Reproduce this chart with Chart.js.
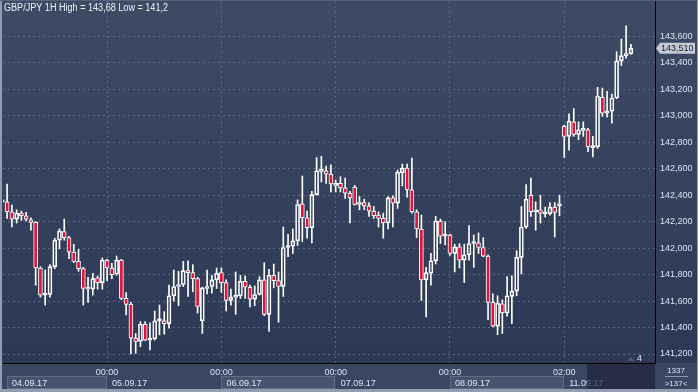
<!DOCTYPE html>
<html>
<head>
<meta charset="utf-8">
<script src="https://cdn.jsdelivr.net/npm/chart.js@4.4.1/dist/chart.umd.min.js"></script>
<style>
  html, body { margin: 0; padding: 0; background: #3a4660; }
  canvas { display: block; }
</style>
</head>
<body>
<canvas id="chart" width="698" height="392"></canvas>
<script>
// GBP/JPY hourly candles, first slot is the clipped one at the left edge
var firstSlot = -1;

var opens = [
  142.35, 142.35, 142.275, 142.22, 142.265, 142.245, 142.215, 142.195, 141.85, 141.645,
  141.65, 141.86, 142.06, 142.125, 142.08, 141.97, 141.9, 141.845, 141.7, 141.69,
  141.775, 141.74, 141.91, 141.85, 141.805, 141.91, 141.62, 141.575, 141.32, 141.295,
  141.425, 141.305, 141.315, 141.45, 141.45, 141.43, 141.64, 141.71, 141.725, 141.83,
  141.815, 141.77, 141.45, 141.695, 141.71, 141.76, 141.815, 141.74, 141.605, 141.63,
  141.64, 141.75, 141.705, 141.615, 141.65, 141.76, 141.5, 141.795, 141.755, 141.71,
  142.005, 142.015, 142.055, 142.335, 142.23, 142.155, 142.405, 142.58, 142.585, 142.56,
  142.475, 142.49, 142.455, 142.415, 142.46, 142.33, 142.345, 142.32, 142.28, 142.25,
  142.225, 142.19, 142.38, 142.34, 142.57, 142.605, 142.44, 142.275, 142.145, 141.76,
  141.81, 141.905, 142.205, 142.09, 142.1, 141.96, 142.01, 141.91, 141.95, 142.035,
  142.04, 142.005, 141.94, 141.59, 141.41, 141.58, 141.51, 141.635, 141.675, 141.93,
  142.16, 142.40, 142.275, 142.29, 142.26, 142.26, 142.31, 142.32, 142.92, 142.845,
  142.955, 142.86, 142.89, 142.895, 142.76, 142.765, 143.14, 143.02, 143.035, 143.135,
  143.415, 143.455, 143.47
];
var highs = [
  142.36, 142.485, 142.325, 142.29, 142.28, 142.27, 142.23, 142.2, 141.86, 141.835,
  141.875, 142.075, 142.145, 142.22, 142.09, 142.03, 141.99, 141.855, 141.78, 141.81,
  141.79, 141.925, 141.915, 141.885, 141.94, 141.915, 141.665, 141.59, 141.355, 141.445,
  141.445, 141.435, 141.525, 141.57, 141.52, 141.72, 141.835, 141.825, 141.9, 141.905,
  141.875, 141.78, 141.705, 141.835, 141.795, 141.85, 141.85, 141.76, 141.69, 141.82,
  141.795, 141.79, 141.72, 141.715, 141.785, 141.89, 141.84, 141.88, 141.82, 142.16,
  142.105, 142.145, 142.365, 142.545, 142.28, 142.43, 142.685, 142.695, 142.62, 142.63,
  142.515, 142.54, 142.53, 142.43, 142.475, 142.39, 142.37, 142.345, 142.315, 142.275,
  142.265, 142.39, 142.395, 142.59, 142.635, 142.635, 142.68, 142.29, 142.25, 141.855,
  141.96, 142.24, 142.22, 142.2, 142.105, 142.03, 142.035, 142.03, 142.17, 142.1,
  142.115, 142.08, 141.95, 141.655, 141.64, 141.61, 141.785, 141.79, 141.98, 142.315,
  142.48, 142.53, 142.35, 142.4, 142.31, 142.345, 142.345, 142.4, 142.93, 143.015,
  143.055, 142.955, 142.955, 142.905, 142.845, 143.215, 143.21, 143.185, 143.165, 143.485,
  143.58, 143.68, 143.54
];
var lows = [
  142.34, 142.225, 142.16, 142.19, 142.21, 142.205, 142.135, 141.72, 141.63, 141.57,
  141.63, 141.845, 141.995, 142.06, 141.92, 141.89, 141.825, 141.57, 141.59, 141.645,
  141.69, 141.69, 141.755, 141.77, 141.795, 141.61, 141.495, 141.2, 141.205, 141.255,
  141.3, 141.23, 141.305, 141.345, 141.35, 141.395, 141.6, 141.565, 141.71, 141.635,
  141.67, 141.51, 141.355, 141.655, 141.66, 141.695, 141.665, 141.525, 141.57, 141.5,
  141.62, 141.62, 141.555, 141.565, 141.645, 141.49, 141.37, 141.7, 141.44, 141.635,
  141.935, 141.96, 142.02, 142.05, 142.075, 142.04, 142.4, 142.5, 142.49, 142.425,
  142.425, 142.425, 142.375, 142.19, 142.325, 142.29, 142.29, 142.24, 142.225, 142.16,
  142.075, 142.145, 142.16, 142.3, 142.47, 142.385, 142.265, 142.08, 141.605, 141.48,
  141.72, 141.88, 142.035, 142.025, 141.945, 141.82, 141.85, 141.74, 141.91, 141.855,
  141.96, 141.935, 141.46, 141.405, 141.345, 141.355, 141.485, 141.43, 141.64, 141.805,
  142.15, 142.24, 142.135, 142.19, 142.235, 142.25, 142.085, 142.245, 142.685, 142.74,
  142.845, 142.82, 142.845, 142.73, 142.69, 142.755, 142.995, 142.99, 142.945, 143.13,
  143.38, 143.435, 143.465
];
var closes = [
  142.355, 142.275, 142.22, 142.265, 142.245, 142.22, 142.195, 141.85, 141.645, 141.65,
  141.86, 142.06, 142.13, 142.08, 141.97, 141.9, 141.845, 141.695, 141.69, 141.77,
  141.74, 141.91, 141.85, 141.8, 141.91, 141.62, 141.575, 141.32, 141.295, 141.425,
  141.305, 141.315, 141.45, 141.455, 141.43, 141.64, 141.71, 141.725, 141.83, 141.815,
  141.77, 141.56, 141.7, 141.71, 141.76, 141.81, 141.74, 141.605, 141.63, 141.64,
  141.75, 141.705, 141.615, 141.65, 141.76, 141.5, 141.795, 141.755, 141.71, 142.005,
  142.015, 142.055, 142.33, 142.23, 142.155, 142.405, 142.585, 142.59, 142.56, 142.485,
  142.49, 142.455, 142.415, 142.38, 142.33, 142.345, 142.32, 142.28, 142.245, 142.225,
  142.19, 142.38, 142.34, 142.575, 142.605, 142.44, 142.275, 142.145, 141.76, 141.815,
  141.905, 142.205, 142.09, 142.1, 141.96, 142.01, 141.91, 141.95, 142.035, 142.04,
  142.005, 141.94, 141.59, 141.41, 141.585, 141.51, 141.64, 141.675, 141.93, 142.16,
  142.37, 142.275, 142.29, 142.265, 142.27, 142.31, 142.27, 142.335, 142.845, 142.96,
  142.86, 142.895, 142.9, 142.765, 142.77, 143.15, 143.02, 143.035, 143.135, 143.415,
  143.455, 143.47, 143.51
];

var priceTicks = [141.2, 141.4, 141.6, 141.8, 142.0, 142.2, 142.4, 142.6, 142.8, 143.0, 143.2, 143.4, 143.6];
var gridSlots = [21, 45, 69, 93, 117];
var timeLabels = ['00:00', '00:00', '00:00', '00:00', '02:00'];
var dateStarts = [0, 21, 45, 69, 93, 117];
var dateLabels = ['04.09.17', '05.09.17', '06.09.17', '07.09.17', '08.09.17', '11.09.17'];
var barsInfo = ['1337', '>137<'];

var FONT = '"Liberation Sans", Arial, sans-serif';
function fmt(v, d) { return (d == null ? String(v) : v.toFixed(d)).replace('.', ','); }

// split each candle into upper wick, body and lower wick (hollow bodies must not show the wick)
var upperWicks = [], lowerWicks = [], bodies = [], bodyColors = [];
opens.forEach(function(o, i) {
  var x = firstSlot + i;
  var bodyHi = Math.max(o, closes[i]), bodyLo = Math.min(o, closes[i]);
  upperWicks.push({ x: x, y: [bodyHi, highs[i]] });
  lowerWicks.push({ x: x, y: [lows[i], bodyLo] });
  bodies.push({ x: x, y: [bodyLo, bodyHi] });
  bodyColors.push(closes[i] < o ? '#e3123a' : 'rgba(0,0,0,0)');
});

var backdrop = {
  id: 'backdrop',
  beforeDraw: function(chart) {
    var c = chart.ctx, a = chart.chartArea, W = chart.width, H = chart.height;
    c.save();
    var g = c.createLinearGradient(0, 0, 0, a.bottom);
    g.addColorStop(0, '#3e4b65');
    g.addColorStop(1, '#2c3855');
    c.fillStyle = g;
    c.fillRect(0, 0, W, a.bottom);
    c.fillStyle = '#3b4762';
    c.fillRect(0, a.bottom, W, H - a.bottom);
    c.restore();
  },
  afterDraw: function(chart) {
    var c = chart.ctx, a = chart.chartArea, W = chart.width, H = chart.height;
    var xs = chart.scales.x, ys = chart.scales.y;
    c.save();

    // date boxes
    c.font = '9px ' + FONT;
    c.textBaseline = 'alphabetic';
    for (var k = 0; k < dateLabels.length; k++) {
      var x0 = xs.getPixelForValue(dateStarts[k]);
      var x1 = k + 1 < dateStarts.length ? xs.getPixelForValue(dateStarts[k + 1]) : a.right;
      if (k % 2 === 0) {
        c.fillStyle = '#48546e';
        c.fillRect(x0, 376, x1 - x0, 13);
        c.strokeStyle = '#616d87';
        c.lineWidth = 1;
        c.strokeRect(Math.round(x0) + 0.5, 376.5, Math.round(x1 - x0) - 1, 12);
      }
      c.fillStyle = '#dbe4f2';
      c.fillText(dateLabels[k], x0 + 5, 386);
    }

    // dark block under the empty right part
    c.fillStyle = 'rgba(28,36,58,0.7)';
    c.fillRect(587, a.bottom + 1, a.right - 587, H - a.bottom - 4);

    // bars info box
    c.font = '8px ' + FONT;
    c.fillStyle = '#dbe4f2';
    c.textAlign = 'center';
    c.fillText(barsInfo[0], 676, 373);
    c.fillText(barsInfo[1], 676, 386);
    c.strokeStyle = '#8c97ab';
    c.beginPath(); c.moveTo(665, 376.5); c.lineTo(688, 376.5); c.stroke();

    // last price tag
    c.font = '9px ' + FONT;
    var last = closes[closes.length - 1];
    var py = ys.getPixelForValue(last);
    c.fillStyle = '#c5cad3';
    c.beginPath();
    c.moveTo(a.right + 1, py);
    c.lineTo(a.right + 5, py - 5.5);
    c.lineTo(695, py - 5.5);
    c.lineTo(695, py + 5.5);
    c.lineTo(a.right + 5, py + 5.5);
    c.closePath();
    c.fill();
    c.fillStyle = '#12203a';
    c.textAlign = 'left';
    c.textBaseline = 'middle';
    c.fillText(fmt(last, 3), 661, py + 0.5);

    // small marker near the bottom right of the plot
    c.fillStyle = '#4f5b74';
    c.beginPath(); c.moveTo(627, 361); c.lineTo(631, 357); c.lineTo(635, 361); c.closePath(); c.fill();
    c.fillStyle = '#dbe4f2';
    c.textBaseline = 'alphabetic';
    c.fillText('4', 637, 361);

    // title
    var hi = Math.max.apply(null, highs), lo = Math.min.apply(null, lows);
    c.font = '10px ' + FONT;
    c.fillStyle = '#eef2f8';
    c.fillText('GBP/JPY 1H High = ' + fmt(hi) + ' Low = ' + fmt(lo), 4, 11, 164);

    // frame
    c.fillStyle = '#939daf';
    c.fillRect(0, 0, 2, H);
    c.fillRect(0, H - 3, W, 3);
    c.fillRect(W - 1, 0, 1, H);
    c.fillStyle = '#56637d';
    c.fillRect(0, 0, W, 1);
    c.restore();
  }
};

var wickStyle = { backgroundColor: '#ffffff', borderWidth: 0, barThickness: 1, grouped: false, clip: 0 };

new Chart(document.getElementById('chart').getContext('2d'), {
  type: 'bar',
  data: {
    datasets: [
      Object.assign({ data: upperWicks }, wickStyle),
      Object.assign({ data: lowerWicks }, wickStyle),
      {
        data: bodies,
        backgroundColor: bodyColors,
        borderColor: '#ffffff',
        borderWidth: 1,
        borderSkipped: false,
        barThickness: 4,
        minBarLength: 2,
        grouped: false,
        clip: 0
      }
    ]
  },
  options: {
    responsive: false,
    animation: false,
    events: [],
    layout: { padding: { left: 3, top: 1, right: 0, bottom: 0 } },
    plugins: { legend: { display: false }, tooltip: { enabled: false } },
    scales: {
      x: {
        type: 'linear',
        min: -0.861,
        max: 136.06,
        offset: false,
        grid: { color: '#5a6883', lineWidth: 1, drawTicks: false, offset: false },
        border: { color: '#000000', width: 1, dash: [2, 3] },
        afterBuildTicks: function(s) { s.ticks = gridSlots.map(function(v) { return { value: v }; }); },
        ticks: {
          autoSkip: false, maxRotation: 0, padding: 4,
          color: '#dbe4f2', font: { size: 9, family: FONT },
          callback: function(v, idx) { return timeLabels[idx]; }
        },
        afterFit: function(s) { s.height = 29; s.paddingLeft = 0; s.paddingRight = 0; }
      },
      y: {
        type: 'linear',
        position: 'right',
        min: 141.132,
        max: 143.868,
        grid: { color: '#5a6883', lineWidth: 1, drawTicks: false },
        border: { color: '#000000', width: 1, dash: [2, 3] },
        afterBuildTicks: function(s) { s.ticks = priceTicks.map(function(v) { return { value: v }; }); },
        ticks: {
          padding: 5,
          color: '#dbe4f2', font: { size: 9, family: FONT },
          callback: function(v) { return fmt(v, 3); }
        },
        afterFit: function(s) { s.width = 43; s.paddingTop = 0; s.paddingBottom = 0; }
      }
    }
  },
  plugins: [backdrop]
});
</script>
</body>
</html>
